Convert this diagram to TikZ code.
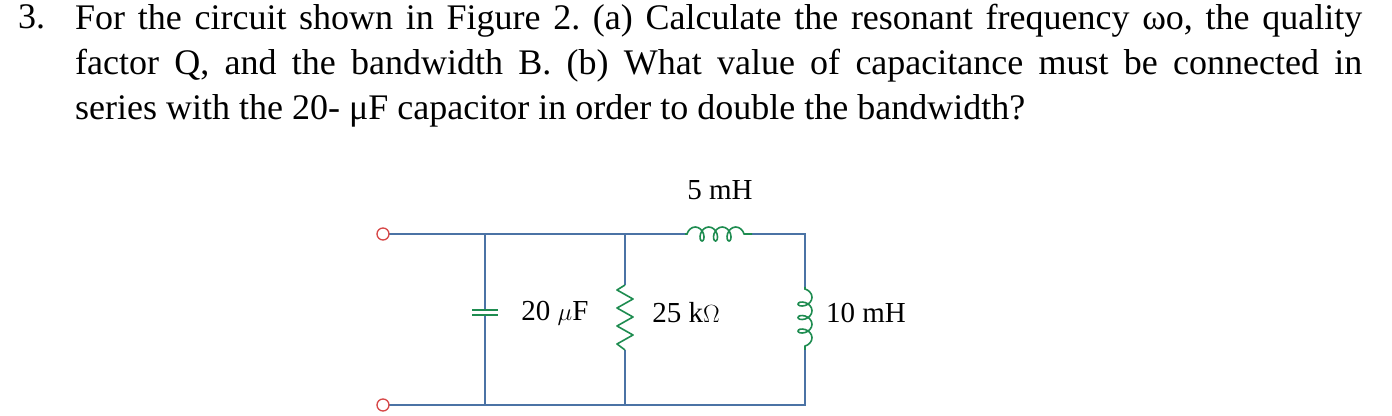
\documentclass[tikz,border=0pt]{standalone}
\usepackage{fontspec}
\setmainfont{Liberation Serif}
\usetikzlibrary{decorations.pathmorphing}
\definecolor{wire}{RGB}{75,115,165}
\definecolor{comp}{RGB}{30,140,80}
\definecolor{term}{RGB}{215,70,70}
\tikzset{
  w/.style={draw=wire,line width=1.6pt},
  cmp/.style={draw=comp,line width=1.6pt},
  coilA/.style={cmp,decorate,decoration={coil,aspect=0.7,segment length=13.5pt,amplitude=7pt,pre length=2pt,post length=2pt}},
  lbl/.style={font=\fontsize{29}{30}\selectfont,inner sep=0pt},
  termc/.style={circle,draw=term,line width=1.3pt,fill=white,minimum size=12pt,inner sep=0pt}
}
\begin{document}
\begin{tikzpicture}[x=1pt,y=1pt]
\useasboundingbox (0,0) rectangle (1392,415);
\fill[white] (0,0) rectangle (1392,415);
\node[anchor=north west,inner sep=0pt] (num) at (18,411) {\fontsize{36}{45}\selectfont 3.};
\node[anchor=north west,inner sep=0pt] (q) at (75,411) {\parbox{1287pt}{\frenchspacing\fontsize{36}{45}\selectfont For the circuit shown in Figure 2. (a) Calculate the resonant frequency ωo, the quality\linebreak factor Q, and the bandwidth B. (b) What value of capacitance must be connected in\linebreak series with the 20- μF capacitor in order to double the bandwidth?}};
\coordinate (t1) at (383,181);
\coordinate (t2) at (383,10);
\coordinate (ct) at (485,181);
\coordinate (cb) at (485,10);
\coordinate (c1) at (485,105);
\coordinate (c2) at (485,100);
\coordinate (rt) at (625,181);
\coordinate (rb) at (625,10);
\coordinate (r1) at (625,130);
\coordinate (r2) at (625,65);
\coordinate (l1a) at (685,181);
\coordinate (l1b) at (752,181);
\coordinate (rt2) at (805,181);
\coordinate (rb2) at (805,10);
\coordinate (l2a) at (805,128);
\coordinate (l2b) at (805,65);
\draw[w] (t1) -- (l1a);
\draw[w] (l1b) -- (rt2) -- (l2a);
\draw[w] (l2b) -- (rb2) -- (t2);
\draw[w] (ct) -- (c1);
\draw[w] (c2) -- (cb);
\draw[w] (rt) -- (r1);
\draw[w] (r2) -- (rb);
\draw[cmp] ([xshift=-13]c1) -- ([xshift=13]c1);
\draw[cmp] ([xshift=-13]c2) -- ([xshift=13]c2);
\draw[cmp,line join=round] (r1) -- ++(-8,-5) -- ++(16,-9) -- ++(-16,-9) -- ++(16,-9) -- ++(-16,-9) -- ++(16,-9) -- ++(-16,-9) -- (r2);
\draw[coilA] (l1a) -- (l1b);
\draw[coilA] (l2a) -- (l2b);
\node[termc] (T1) at (t1) {};
\node[termc] (T2) at (t2) {};
\node[lbl] (L5) at (720,225) {5 mH};
\node[lbl] (C20) at (555,102) {20 $\mu$F};
\node[lbl] (R25) at (686,102) {25 k$\Omega$};
\node[lbl] (L10) at (866,102) {10 mH};
\end{tikzpicture}
\end{document}
